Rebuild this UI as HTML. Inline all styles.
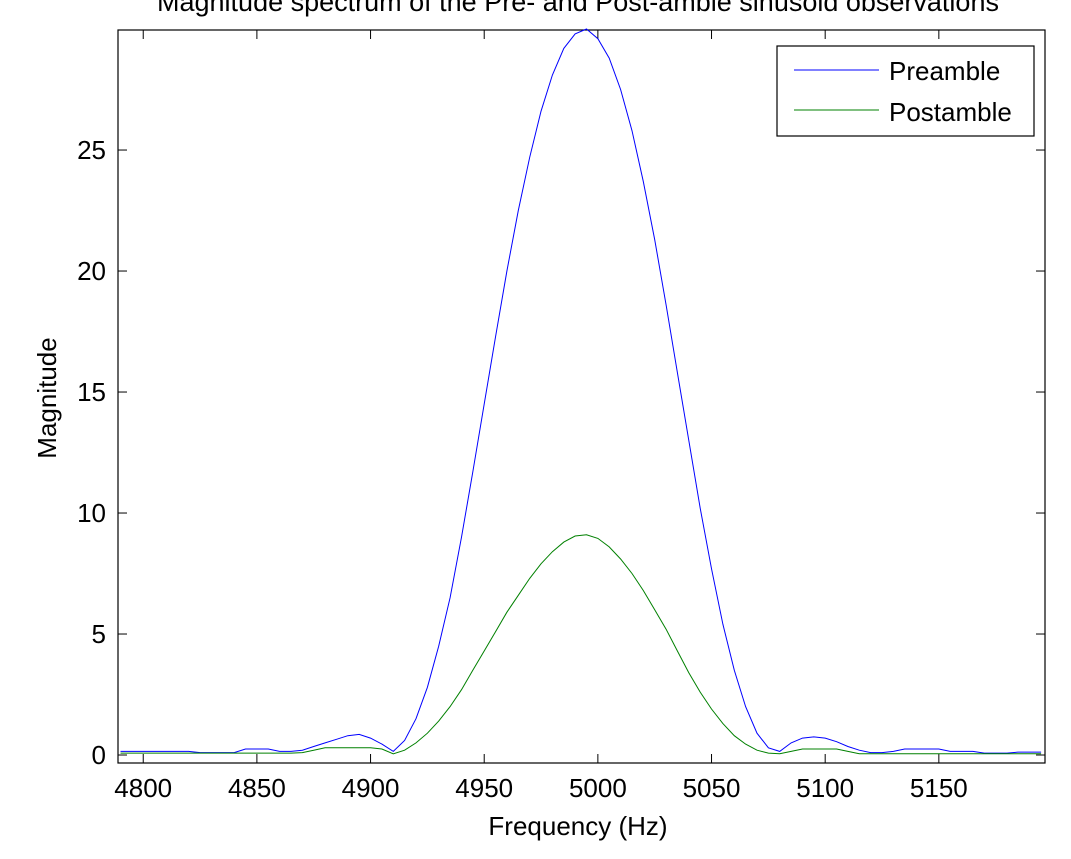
<!DOCTYPE html>
<html><head><meta charset="utf-8"><style>
html,body{margin:0;padding:0;background:#fff;}
svg{display:block;font-family:"Liberation Sans",sans-serif;}
</style></head><body>
<svg id="chart" width="1071" height="859">
<text x="578" y="11" font-size="27" text-anchor="middle">Magnitude spectrum of the Pre- and Post-amble sinusoid observations</text>
<rect x="118" y="30" width="927" height="733" fill="#fff" stroke="#000" stroke-width="1.2"/>
<g id="ticks"></g>
<g id="lines"></g>
<text x="578" y="835" font-size="26" text-anchor="middle">Frequency (Hz)</text>
<text transform="translate(56,398) rotate(-90)" font-size="26" text-anchor="middle">Magnitude</text>
<g>
<rect x="777" y="46" width="257" height="90" fill="#fff" stroke="#000" stroke-width="1.2"/>
<line x1="794" y1="70" x2="879" y2="70" stroke="#0000ff"/>
<text x="889" y="80" font-size="26">Preamble</text>
<line x1="794" y1="110" x2="879" y2="110" stroke="#008000"/>
<text x="889" y="121" font-size="26">Postamble</text>
</g>
</svg>
<script>
const freqStart = 4790, freqStep = 5;
const preamble = [0.15,0.15,0.15,0.15,0.15,0.15,0.15,0.1,0.1,0.1,0.1,0.25,0.25,0.25,0.15,0.15,0.2,0.35,0.5,0.65,0.8,0.85,0.7,0.45,0.15,0.6,1.5,2.8,4.5,6.5,9,11.7,14.5,17.3,20,22.5,24.7,26.6,28.1,29.2,29.8,30,29.6,28.8,27.5,25.8,23.7,21.3,18.6,15.8,13,10.2,7.7,5.4,3.5,2,0.9,0.3,0.15,0.5,0.7,0.75,0.7,0.55,0.35,0.2,0.1,0.1,0.15,0.25,0.25,0.25,0.25,0.15,0.15,0.15,0.08,0.08,0.08,0.12,0.12,0.12];
const postamble = [0.08,0.08,0.08,0.08,0.08,0.08,0.08,0.08,0.08,0.08,0.08,0.08,0.08,0.08,0.08,0.08,0.1,0.2,0.3,0.3,0.3,0.3,0.3,0.25,0.05,0.2,0.5,0.9,1.4,2,2.7,3.5,4.3,5.1,5.9,6.6,7.3,7.9,8.4,8.8,9.05,9.1,8.95,8.6,8.1,7.5,6.8,6,5.2,4.3,3.4,2.6,1.9,1.3,0.8,0.45,0.2,0.08,0.05,0.15,0.25,0.25,0.25,0.25,0.15,0.05,0.05,0.05,0.05,0.05,0.05,0.05,0.05,0.05,0.05,0.05,0.05,0.05,0.05,0.05,0.05,0.05];
const xTicks = [4800,4850,4900,4950,5000,5050,5100,5150];
const yTicks = [0,5,10,15,20,25];
const NS="http://www.w3.org/2000/svg";
const L=118,R=1045,T=30,B=763, xMin=4788.9,xMax=5196.7,yMin=-0.33,yMax=29.96;
const sx=v=>L+(v-xMin)/(xMax-xMin)*(R-L);
const sy=v=>B-(v-yMin)/(yMax-yMin)*(B-T);
const tg=document.getElementById('ticks');
function mk(tag,attrs,parent){const e=document.createElementNS(NS,tag);for(const k in attrs)e.setAttribute(k,attrs[k]);parent.appendChild(e);return e;}
xTicks.forEach(t=>{
  const x=sx(t);
  const a=mk('line',{x1:x,y1:B,x2:x,y2:B-9,stroke:'#000'},tg);
  
  
  const b=mk('line',{x1:x,y1:T,x2:x,y2:T+9,stroke:'#000'},tg);
  
  
  const s=mk('text',{x:x,y:797,'font-size':26,'text-anchor':'middle'},tg);
  s.textContent=t;
  
  
});
yTicks.forEach(t=>{
  const y=sy(t);
  const a=mk('line',{x1:L,y1:y,x2:L+9,y2:y,stroke:'#000'},tg);
  
  
  const b=mk('line',{x1:R,y1:y,x2:R-9,y2:y,stroke:'#000'},tg);
  
  
  const s=mk('text',{x:106,y:y+9,'font-size':26,'text-anchor':'end'},tg);
  s.textContent=t;
  
  
});
const lg=document.getElementById('lines');
function draw(arr,color,name){
  const pts=arr.map((v,i)=>sx(freqStart+i*freqStep).toFixed(1)+','+sy(v).toFixed(1)).join(' ');
  const p=mk('polyline',{points:pts,fill:'none',stroke:color,'stroke-width':1},lg);
  
  
}
draw(preamble,'#0000ff','preamble-line');
draw(postamble,'#008000','postamble-line');
</script>
</body></html>
